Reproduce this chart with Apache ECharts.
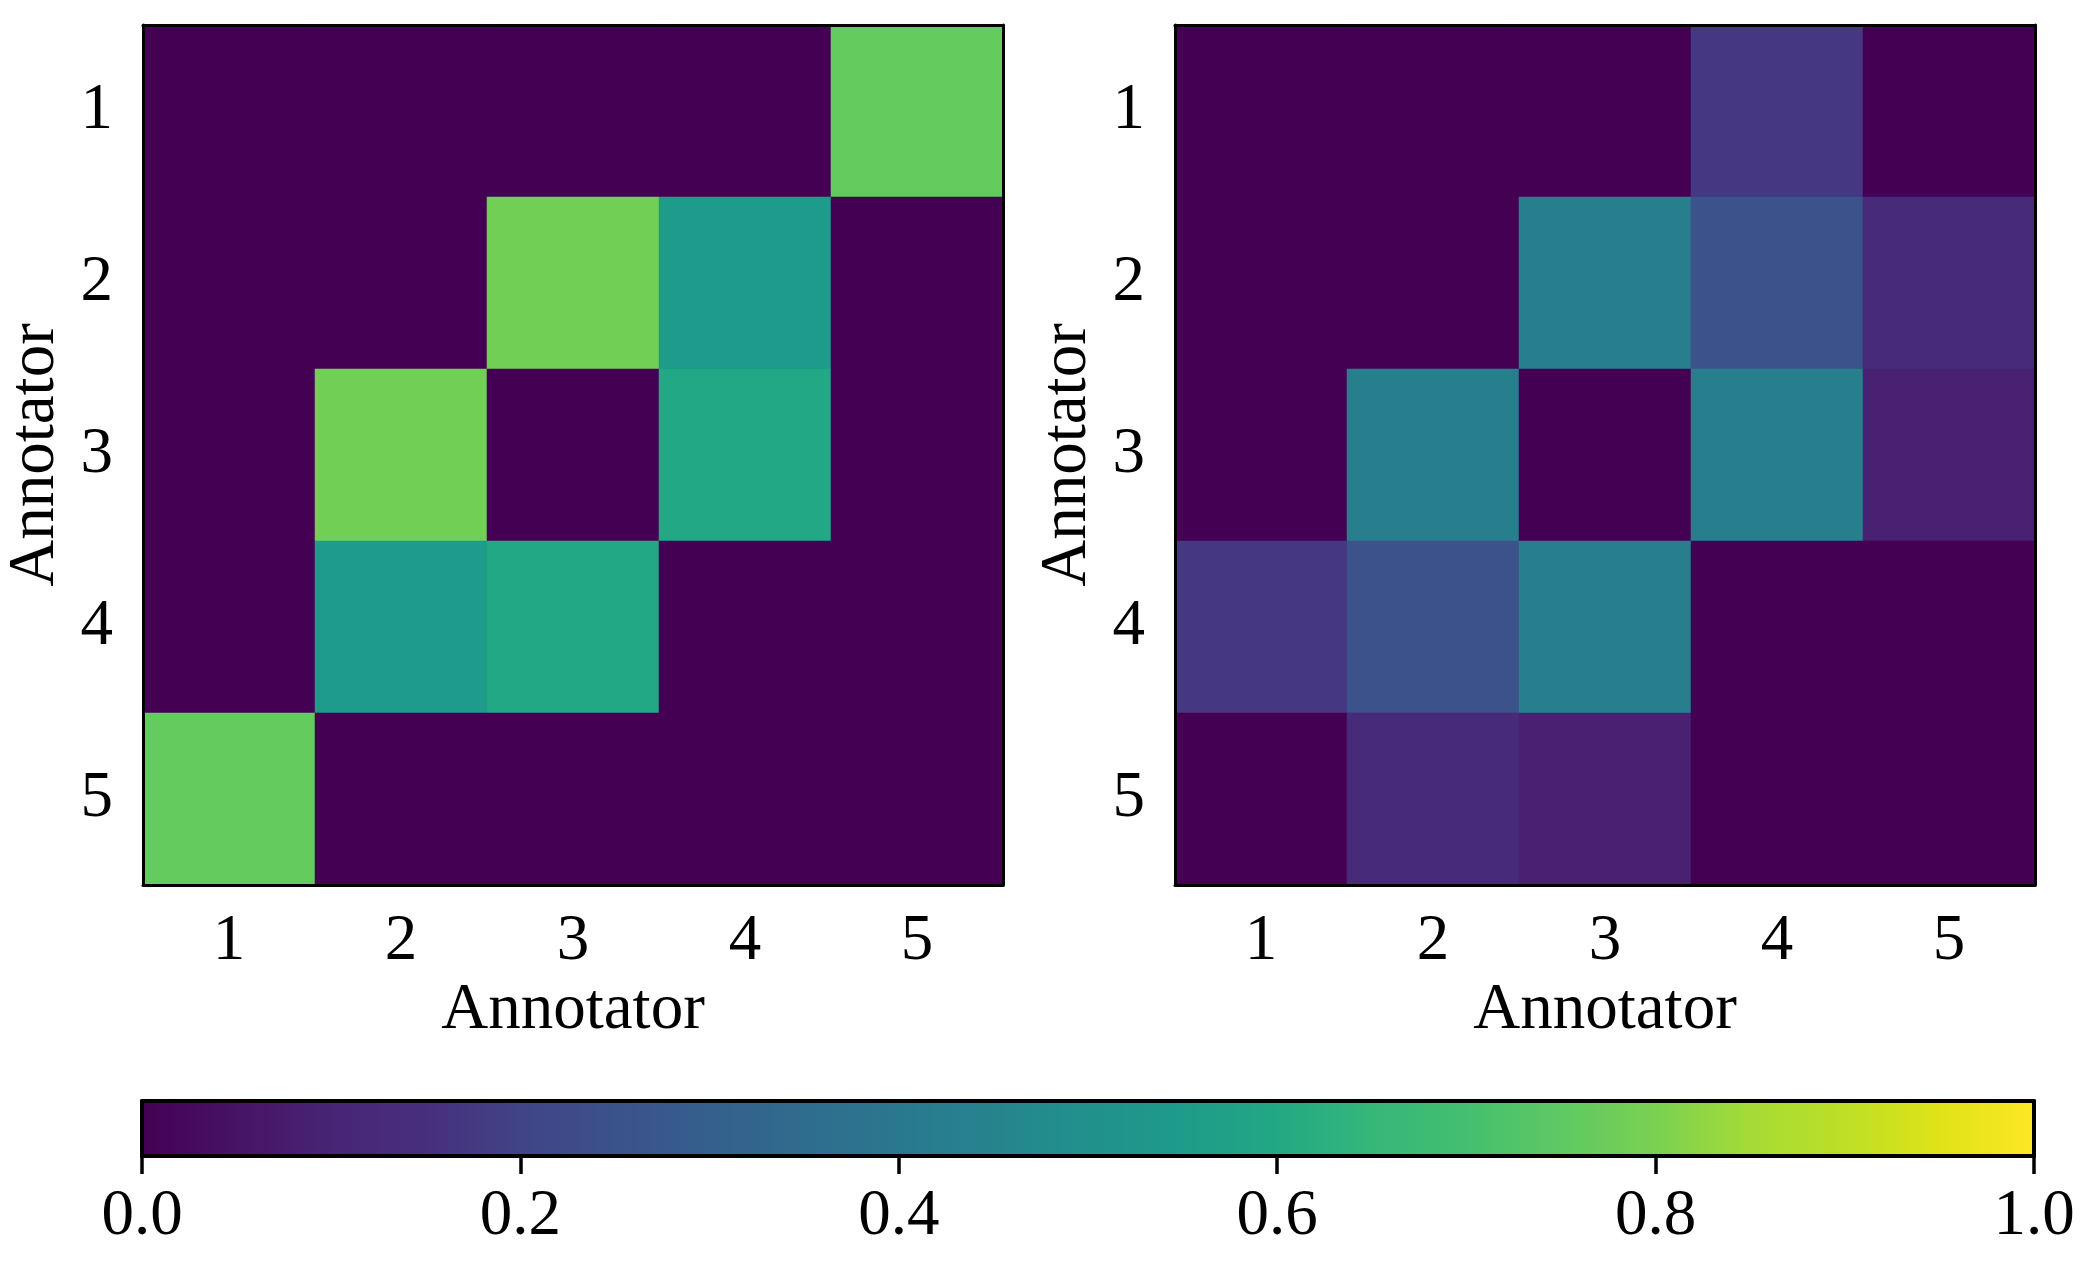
<!DOCTYPE html>
<html>
<head>
<meta charset="utf-8">
<script src="https://cdn.jsdelivr.net/npm/echarts@6/dist/echarts.min.js"></script>
<style>
html, body { margin: 0; padding: 0; background: #fff; }
#main { width: 2095px; height: 1277px; }
</style>
</head>
<body>
<div id="main"></div>
<script>
var annotators = ['1', '2', '3', '4', '5'];
// rows = annotator on y, columns = annotator on x
var leftMatrix = [
  [0, 0, 0, 0, 0.76],
  [0, 0, 0.785, 0.55, 0],
  [0, 0.785, 0, 0.6, 0],
  [0, 0.55, 0.6, 0, 0],
  [0.76, 0, 0, 0, 0]
];
var rightMatrix = [
  [0, 0, 0, 0.17, 0],
  [0, 0, 0.43, 0.25, 0.13],
  [0, 0.43, 0, 0.43, 0.09],
  [0.17, 0.25, 0.43, 0, 0],
  [0, 0.13, 0.09, 0, 0]
];
var colorbarTicks = [0, 0.2, 0.4, 0.6, 0.8, 1.0];
var viridis = ['#440154', '#471365', '#482475', '#472f7d', '#414487', '#3b528b',
  '#355f8d', '#2f6c8e', '#2a788e', '#25848e', '#21918c', '#1e9b8a', '#22a884',
  '#35b779', '#44bf70', '#5ec962', '#7ad151', '#a5db36', '#bddf26', '#dfe318', '#fde725'];

var font = 'Liberation Serif';

function toCells(m) {
  var out = [];
  m.forEach(function (row, y) {
    row.forEach(function (v, x) { out.push([x, y, v]); });
  });
  return out;
}

var gradStops = viridis.map(function (c, i) {
  return { offset: i / (viridis.length - 1), color: c };
});

var myChart = echarts.init(document.getElementById('main'));

var grids = [
  { left: 143, top: 25, width: 860, height: 860 },
  { left: 1175, top: 25, width: 860, height: 860 },
  { left: 142, top: 1101, width: 1892, height: 55 }
];

var xAxes = [], yAxes = [];
[0, 1].forEach(function (g) {
  xAxes.push({
    gridIndex: g, type: 'category', data: annotators, z: 10,
    name: 'Annotator', nameLocation: 'middle', nameGap: 84,
    nameTextStyle: { fontFamily: font, fontSize: 65, color: '#000' },
    axisLine: { lineStyle: { color: '#000', width: 3 } },
    axisTick: { alignWithLabel: true, length: 12, lineStyle: { width: 3.5, color: '#000' } },
    axisLabel: { fontFamily: font, fontSize: 65, color: '#000', margin: 24 },
    splitLine: { show: false }
  });
  xAxes.push({
    gridIndex: g, type: 'category', data: annotators, position: 'top', z: 10,
    axisLine: { onZero: false, lineStyle: { color: '#000', width: 3 } },
    axisTick: { show: false }, axisLabel: { show: false }, splitLine: { show: false }
  });
  yAxes.push({
    gridIndex: g, type: 'category', data: annotators, inverse: true, z: 10,
    name: 'Annotator', nameLocation: 'middle', nameGap: 75,
    nameTextStyle: { fontFamily: font, fontSize: 65, color: '#000' },
    axisLine: { lineStyle: { color: '#000', width: 3 } },
    axisTick: { alignWithLabel: true, length: 12, lineStyle: { width: 3.5, color: '#000' } },
    axisLabel: { fontFamily: font, fontSize: 65, color: '#000', margin: 30 },
    splitLine: { show: false }
  });
  yAxes.push({
    gridIndex: g, type: 'category', data: annotators, inverse: true, position: 'right', z: 10,
    axisLine: { onZero: false, lineStyle: { color: '#000', width: 3 } },
    axisTick: { show: false }, axisLabel: { show: false }, splitLine: { show: false }
  });
});

// colorbar axes
xAxes.push({
  gridIndex: 2, type: 'value', min: 0, max: 1, interval: 0.2, z: 10,
  axisLine: { onZero: false, lineStyle: { color: '#000', width: 4 } },
  axisTick: { length: 18, lineStyle: { width: 3.5, color: '#000' } },
  axisLabel: {
    fontFamily: font, fontSize: 65, color: '#000', margin: 28,
    showMinLabel: true, showMaxLabel: true,
    formatter: function (v) { return v.toFixed(1); }
  },
  splitLine: { show: false }
});
xAxes.push({
  gridIndex: 2, type: 'value', min: 0, max: 1, position: 'top', z: 10,
  axisLine: { onZero: false, lineStyle: { color: '#000', width: 4 } },
  axisTick: { show: false }, axisLabel: { show: false }, splitLine: { show: false }
});
yAxes.push({
  gridIndex: 2, type: 'value', min: 0, max: 1, z: 10,
  axisLine: { show: true, onZero: false, lineStyle: { color: '#000', width: 4 } },
  axisTick: { show: false }, axisLabel: { show: false }, splitLine: { show: false }
});
yAxes.push({
  gridIndex: 2, type: 'value', min: 0, max: 1, position: 'right', z: 10,
  axisLine: { show: true, onZero: false, lineStyle: { color: '#000', width: 4 } },
  axisTick: { show: false }, axisLabel: { show: false }, splitLine: { show: false }
});

var option = {
  backgroundColor: '#fff',
  animation: false,
  grid: grids,
  xAxis: xAxes,
  yAxis: yAxes,
  visualMap: {
    type: 'continuous', show: false, min: 0, max: 1,
    seriesIndex: [0, 1], dimension: 2,
    inRange: { color: viridis }
  },
  series: [
    {
      type: 'heatmap', xAxisIndex: 0, yAxisIndex: 0,
      data: toCells(leftMatrix), emphasis: { disabled: true }
    },
    {
      type: 'heatmap', xAxisIndex: 2, yAxisIndex: 2,
      data: toCells(rightMatrix), emphasis: { disabled: true }
    },
    {
      type: 'custom', xAxisIndex: 4, yAxisIndex: 4,
      data: [[colorbarTicks[0], colorbarTicks[colorbarTicks.length - 1]]],
      renderItem: function (params, api) {
        var p0 = api.coord([api.value(0), 1]);
        var p1 = api.coord([api.value(1), 0]);
        return {
          type: 'rect',
          shape: { x: p0[0], y: p0[1], width: p1[0] - p0[0], height: p1[1] - p0[1] },
          style: { fill: new echarts.graphic.LinearGradient(0, 0, 1, 0, gradStops) }
        };
      }
    }
  ]
};
myChart.setOption(option);
</script>
</body>
</html>
